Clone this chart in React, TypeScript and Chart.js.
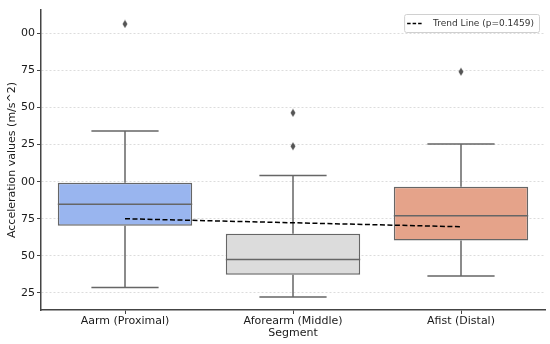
import React, { useEffect, useRef } from "react";
import { Chart, registerables } from "chart.js";

Chart.register(...registerables);

const categories = ["Aarm (Proximal)", "Aforearm (Middle)", "Afist (Distal)"];
const whiskerLow = [1.286, 1.223, 1.365];
const q1 = [1.703, 1.372, 1.603];
const median = [1.847, 1.475, 1.77];
const q3 = [1.993, 1.649, 1.966];
const whiskerHigh = [2.342, 2.041, 2.253];
const outlierCategory = ["Aarm (Proximal)", "Aforearm (Middle)", "Aforearm (Middle)", "Afist (Distal)"];
const outlierValue = [3.063, 2.464, 2.239, 2.741];
const trendValues = [1.75, 1.723, 1.696];
const trendLabel = "Trend Line (p=0.1459)";
const boxColors = ["#99b5ef", "#dcdcdc", "#e5a38a"];
const yTickValues = [1.25, 1.5, 1.75, 2.0, 2.25, 2.5, 2.75, 3.0];
const yTickLabels = ["25", "50", "75", "00", "25", "50", "75", "00"];

const FONT = "'DejaVu Sans', sans-serif";
const EDGE = "#666666";
const TEXT = "#1a1a1a";

function makeDiamond(): HTMLCanvasElement {
  const c = document.createElement("canvas");
  c.width = 6;
  c.height = 9;
  const g = c.getContext("2d")!;
  g.fillStyle = "#555555";
  g.beginPath();
  g.moveTo(3, 0.5);
  g.lineTo(5.5, 4.5);
  g.lineTo(3, 8.5);
  g.lineTo(0.5, 4.5);
  g.closePath();
  g.fill();
  return c;
}

const boxPlugin = {
  id: "boxParts",
  afterDatasetDraw(chart: any, args: any) {
    if (args.index !== 0) return;
    const { ctx } = chart;
    const y = chart.scales.y;
    const meta = chart.getDatasetMeta(0);
    ctx.save();
    ctx.strokeStyle = EDGE;
    ctx.lineWidth = 1.5;
    meta.data.forEach((bar: any, i: number) => {
      const x = bar.x;
      const w = bar.width;
      const yl = y.getPixelForValue(whiskerLow[i]);
      const yq1 = y.getPixelForValue(q1[i]);
      const yq3 = y.getPixelForValue(q3[i]);
      const yh = y.getPixelForValue(whiskerHigh[i]);
      const ym = y.getPixelForValue(median[i]);
      ctx.beginPath();
      ctx.moveTo(x, yq1);
      ctx.lineTo(x, yl);
      ctx.moveTo(x - w / 4, yl);
      ctx.lineTo(x + w / 4, yl);
      ctx.moveTo(x, yq3);
      ctx.lineTo(x, yh);
      ctx.moveTo(x - w / 4, yh);
      ctx.lineTo(x + w / 4, yh);
      ctx.moveTo(x - w / 2, ym);
      ctx.lineTo(x + w / 2, ym);
      ctx.stroke();
    });
    ctx.restore();
  },
};

const legendPlugin = {
  id: "boxLegend",
  afterDraw(chart: any) {
    const { ctx, chartArea } = chart;
    ctx.save();
    ctx.font = `9px ${FONT}`;
    const tw = ctx.measureText(trendLabel).width;
    const w = 15 + 3 + 11 + tw + 5;
    const h = 18;
    const right = chartArea.right - 6;
    const left = right - w;
    const top = chartArea.top + 4;
    ctx.fillStyle = "rgba(255,255,255,0.85)";
    ctx.strokeStyle = "#d0d0d0";
    ctx.lineWidth = 1;
    ctx.beginPath();
    ctx.roundRect(left + 0.5, top + 0.5, w, h, 2);
    ctx.fill();
    ctx.stroke();
    const cy = top + h / 2 + 0.5;
    ctx.strokeStyle = "#000";
    ctx.lineWidth = 1.5;
    ctx.setLineDash([3.5, 2]);
    ctx.beginPath();
    ctx.moveTo(left + 3, cy);
    ctx.lineTo(left + 18, cy);
    ctx.stroke();
    ctx.setLineDash([]);
    ctx.fillStyle = "#333";
    ctx.textBaseline = "middle";
    ctx.textAlign = "left";
    ctx.fillText(trendLabel, left + 29, cy);
    ctx.restore();
  },
};

export default function App() {
  const ref = useRef<HTMLCanvasElement | null>(null);
  useEffect(() => {
    document.body.style.margin = "0";
    const canvas = ref.current!;
    const diamond = makeDiamond();
    const chart = new Chart(canvas, {
      type: "bar",
      data: {
        labels: categories,
        datasets: [
          {
            type: "bar",
            label: "box",
            data: categories.map((_, i) => [q1[i], q3[i]]) as any,
            backgroundColor: boxColors,
            borderColor: EDGE,
            borderWidth: 1.5,
            borderSkipped: false,
            barPercentage: 0.8,
            categoryPercentage: 1,
            order: 3,
          } as any,
          {
            type: "line",
            label: "outliers",
            data: outlierCategory.map((c, i) => ({ x: c, y: outlierValue[i] })) as any,
            showLine: false,
            pointStyle: diamond as any,
            pointRadius: 4,
            order: 2,
          } as any,
          {
            type: "line",
            label: trendLabel,
            data: trendValues,
            borderColor: "#000",
            borderWidth: 1.5,
            borderDash: [5, 2.5],
            pointRadius: 0,
            fill: false,
            order: 1,
          } as any,
        ],
      },
      options: {
        responsive: false,
        animation: false,
        layout: { padding: { top: 10, right: 5, left: 0, bottom: 0 } },
        plugins: {
          legend: { display: false },
          tooltip: { enabled: false },
        },
        scales: {
          x: {
            type: "category",
            offset: true,
            grid: {
              display: true,
              offset: false,
              drawOnChartArea: false,
              drawTicks: true,
              tickLength: 4,
              tickColor: "#444",
              tickWidth: 1,
            },
            border: { display: true, color: "#444", width: 1.5 },
            ticks: {
              color: TEXT,
              font: { family: FONT, size: 11 },
              padding: 1,
              maxRotation: 0,
            },
            title: {
              display: true,
              text: "Segment",
              color: TEXT,
              font: { family: FONT, size: 11 },
              padding: { top: 0, bottom: 4 },
            },
            afterFit: (s: any) => {
              s.height = 34;
            },
          },
          y: {
            type: "linear",
            min: 1.135,
            max: 3.157,
            grid: {
              color: "#d4d4d4",
              lineWidth: 0.8,
              drawTicks: true,
              tickLength: 4,
              tickColor: "#444",
              tickWidth: 1,
              tickBorderDash: [],
            },
            border: { display: true, color: "#444", width: 1.5, dash: [2, 2] },
            ticks: {
              color: TEXT,
              font: { family: FONT, size: 11 },
              padding: 2,
              callback: (v: any) => {
                const i = yTickValues.findIndex((t) => Math.abs(t - Number(v)) < 1e-6);
                return i >= 0 ? yTickLabels[i] : "";
              },
            },
            afterBuildTicks: (s: any) => {
              s.ticks = yTickValues.map((v) => ({ value: v }));
            },
            title: {
              display: true,
              text: "Acceleration values (m/s^2)",
              color: TEXT,
              font: { family: FONT, size: 11 },
              padding: { top: 6, bottom: 0 },
            },
            afterFit: (s: any) => {
              s.width = 41;
            },
          },
        },
      },
      plugins: [boxPlugin, legendPlugin],
    });
    return () => chart.destroy();
  }, []);
  return (
    <div style={{ width: 550, height: 344 }}>
      <canvas ref={ref} width={550} height={344} />
    </div>
  );
}
